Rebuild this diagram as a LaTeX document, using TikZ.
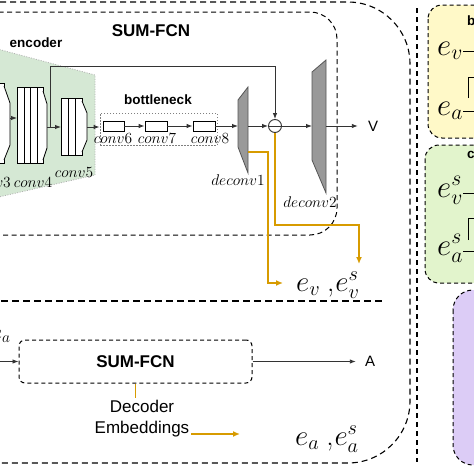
\RequirePackage{fix-cm}
\documentclass[tikz,border=0pt]{standalone}
\usepackage{fontspec}
\setsansfont{Liberation Sans}
\usetikzlibrary{arrows.meta}
\definecolor{encgreen}{HTML}{D5E8D4}
\definecolor{orng}{HTML}{D79B00}
\definecolor{dgray}{HTML}{333333}
\definecolor{dcfill}{HTML}{999999}
\definecolor{dcdraw}{HTML}{555555}
\definecolor{ylw}{HTML}{FFF9C8}
\definecolor{lgrn}{HTML}{E2F4CC}
\definecolor{prpl}{HTML}{DCCCF6}
\tikzset{
  arr/.style={draw=dgray, line width=0.9pt, -{Latex[length=6pt,width=4.5pt]}},
  ln/.style={draw=dgray, line width=0.9pt},
  orarr/.style={draw=orng, line width=1.5pt, -{Latex[length=7pt,width=6pt]}},
  orln/.style={draw=orng, line width=1.5pt},
  bdash/.style={line width=1.1pt, dash pattern=on 6pt off 4pt},
  idash/.style={line width=1pt, dash pattern=on 5pt off 3.5pt},
  tdash/.style={line width=2.2pt, dash pattern=on 5pt off 4pt},
  pdash/.style={draw=black, line width=1pt, dash pattern=on 4pt off 3pt},
  block/.style={draw=black, fill=white, line width=0.8pt},
  deconvs/.style={fill=dcfill, draw=dcdraw, line width=0.8pt},
  sftitle/.style={font=\sffamily\bfseries\fontsize{17}{20}\selectfont},
  sfsub/.style={font=\sffamily\bfseries\fontsize{13.5}{16}\selectfont},
  mlab/.style={font=\fontsize{15.5}{18}\selectfont, inner sep=0pt, anchor=base},
  bige/.style={font=\fontsize{29}{32}\selectfont, inner sep=0pt, anchor=base},
  pane/.style={font=\fontsize{31}{34}\selectfont, inner sep=0pt, anchor=base west},
}
\begin{document}
\begin{tikzpicture}[x=1pt,y=-1pt]
\useasboundingbox (0,0) rectangle (474,474);
% ---------- right panels ----------
\path[pdash, fill=ylw, rounded corners=14] (428,5) rectangle (520,138);
\path[pdash, fill=lgrn, rounded corners=14] (425,145) rectangle (520,283);
\path[pdash, fill=prpl, rounded corners=20] (453,290) rectangle (520,465);
\node[sfsub, anchor=west, inner sep=0pt] (pb) at (467,21) {b};
\node[sfsub, anchor=west, inner sep=0pt] (pc) at (467,155) {c};
\node[pane] (yev) at (437,55) {$e_v$};
\node[pane] (yea) at (437,115) {$e_a$};
\node[pane] (gev) at (437,197) {$e_v^s$};
\node[pane] (gea) at (437,255) {$e_a^s$};
\coordinate (yr1) at (480,51);
\coordinate (yr2) at (480,111);
\coordinate (gr1) at (480,193);
\coordinate (gr2) at (480,251);
\draw[black, line width=0.8pt] (yev.east |- yr1) -- (yr1);
\draw[black, line width=0.8pt] (yea.east |- yr2) -- (yr2);
\draw[black, line width=0.8pt] (gev.east |- gr1) -- (gr1);
\draw[black, line width=0.8pt] (gea.east |- gr2) -- (gr2);
\draw[black, line width=0.8pt] (468,98) -- (468,77) -- (480,77);
\draw[black, line width=0.8pt] (468,240) -- (468,218) -- (480,218);
% ---------- frames ----------
\draw[bdash, rounded corners=62] (-10,2) -- (410,2) -- (410,463) -- (-10,463);
\draw[tdash] (417,8) -- (417,462);
\draw[bdash, line width=1.6pt, dash pattern=on 7pt off 4pt] (-10,301) -- (382,301);
\draw[idash, rounded corners=27] (-10,12) -- (337,12) -- (337,235) -- (-10,235);
% ---------- encoder ----------
\fill[encgreen] (-10,47) -- (95,75) -- (95,175) -- (-10,199) -- cycle;
\draw[gray!60, line width=0.8pt, dash pattern=on 1pt off 1.5pt] (-10,47) -- (95,75) -- (95,175) -- (-10,199);
\node[sfsub] (enc) at (36,43) {encoder};
\node[sftitle] (t1) at (151,31) {SUM-FCN};
% conv3 (cut)
\draw[block] (-20,83) rectangle (4,163);
\draw[block] (4,86) -- (10,103) -- (10,145) -- (4,160);
% conv4
\draw[block] (17,87) rectangle (43,163);
\draw[black, line width=0.8pt] (24,87) -- (24,163) (30.5,87) -- (30.5,163) (37,87) -- (37,163);
\draw[block] (43,91) -- (47,104) -- (47,148) -- (43,160);
% conv5
\draw[block] (61,98) rectangle (82,155);
\draw[black, line width=0.8pt] (68,98) -- (68,155) (75,98) -- (75,155);
\draw[block] (82,101) -- (87,113) -- (87,140) -- (82,152);
\coordinate (c3e) at (10,118);
\coordinate (c4w) at (17,118);
\coordinate (c4e) at (47,127);
\coordinate (c5w) at (61,127);
\coordinate (c5e) at (87,127);
\coordinate (sk) at (50,127);
\node[mlab, anchor=base east] (l3) at (11,187) {$conv3$};
\node[mlab] (l4) at (33,187) {$conv4$};
\node[mlab] (l5) at (74,177) {$conv5$};
% bottleneck
\node[draw=gray, line width=0.8pt, dash pattern=on 1.5pt off 1.5pt, minimum width=117pt, minimum height=32pt, inner sep=0pt] (bn) at (158.5,129) {};
\node[sfsub] (bnl) at (158,100) {bottleneck};
\node[block, minimum width=21pt, minimum height=10pt, inner sep=0pt] (c6) at (113.5,126) {};
\node[block, minimum width=22pt, minimum height=10pt, inner sep=0pt] (c7) at (156,126) {};
\node[block, minimum width=22pt, minimum height=10pt, inner sep=0pt] (c8) at (204,126) {};
\node[mlab] (l6) at (113,143) {$conv6$};
\node[mlab] (l7) at (157,143) {$conv7$};
\node[mlab] (l8) at (210,143) {$conv8$};
% deconvs
\filldraw[deconvs] (238,100) -- (248,87) -- (248,173) -- (238,147) -- cycle;
\filldraw[deconvs] (312,72) -- (326,60) -- (326,193) -- (312,160) -- cycle;
\coordinate (d1w) at (238,126);
\coordinate (d1e) at (248,126);
\coordinate (d1o) at (248,152);
\coordinate (d2w) at (312,126);
\coordinate (d2e) at (326,126);
\node[mlab] (ld1) at (238,185) {$deconv1$};
\node[mlab] (ld2) at (310,207) {$deconv2$};
\node[circle, draw=dgray, line width=0.9pt, minimum size=13pt, inner sep=0pt] (plus) at (275,126) {};
\draw[ln] (plus.west) -- (plus.east);
\node[font=\sffamily\fontsize{15}{18}\selectfont, inner sep=1pt] (V) at (373,126) {V};
% connectors
\draw[arr] (c3e) -- (c4w);
\draw[arr] (c4e) -- (c5w);
\draw[arr] (sk) -- ++(0,-61) -| (plus.north);
\draw[arr] (c5e) -- (c5e -| bn.west);
\draw[arr] (c6.east) -- (c7.west);
\draw[arr] (c7.east) -- (c8.west);
\draw[ln] (c8.east) -- (c8.east -| bn.east);
\draw[arr] (bn.east |- d1w) -- (d1w);
\draw[arr] (d1e) -- (plus.west);
\draw[arr] (plus.east) -- (d2w);
\draw[arr, shorten >=9pt] (d2e) -- (V.west);
% orange outputs
\node[bige, anchor=base west] (ev) at (296,291) {$e_v$\hspace{7pt},\hspace{1pt}$e_v^s$};
\coordinate (evin) at (283,283);
\coordinate (evsin) at (359,264);
\draw[orarr] (d1o) -- (268,152) -- (268,283) -- (evin);
\draw[orarr] (plus.south) -- (275,225) -- (359,225) -- (evsin);
% ---------- lower SUM-FCN ----------
\node[draw=black, line width=1pt, dash pattern=on 4pt off 3pt, rounded corners=6, minimum width=233pt, minimum height=43pt, inner sep=0pt, sftitle] (sum2) at (135.5,361.5) {SUM-FCN};
\node[font=\fontsize{22}{24}\selectfont, inner sep=0pt, anchor=base west] (ea0) at (-8,339) {$e_a$};
\coordinate (ain) at (-5,361.5);
\draw[arr] (ain) -- (sum2.west);
\node[font=\sffamily\fontsize{15}{18}\selectfont, inner sep=1pt] (A) at (370,361) {A};
\draw[arr, shorten >=8pt] (sum2.east) -- (sum2.east -| A.west);
\draw[orln] (sum2.south) -- ++(0,14);
\node[font=\sffamily\fontsize{17}{21}\selectfont, align=center, inner sep=0pt] (de) at (142,419) {Decoder\\Embeddings};
\coordinate (dee) at (191,434);
\coordinate (eain) at (240,434);
\draw[orarr] (dee) -- (eain);
\node[bige, anchor=base west] (ea) at (295,445) {$e_a$\hspace{7pt},\hspace{1pt}$e_a^s$};
\end{tikzpicture}
\end{document}
